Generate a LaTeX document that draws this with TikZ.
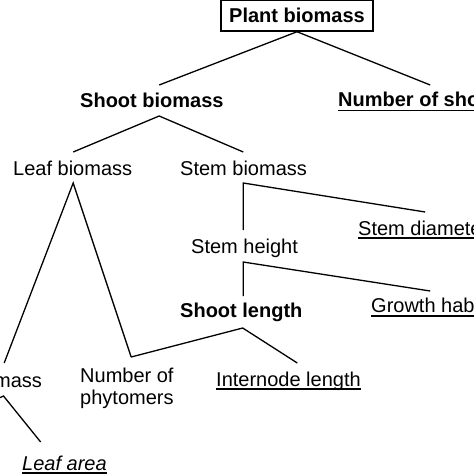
\documentclass[tikz,border=0pt]{standalone}
\usepackage{fontspec}
\setmainfont{Liberation Sans}
\tikzset{
  lbl/.style={inner sep=0pt, anchor=base west, font=\fontsize{20}{22}\selectfont},
  blbl/.style={lbl, font=\fontsize{20}{22}\selectfont\bfseries},
  ilbl/.style={lbl, font=\fontsize{20}{22}\selectfont\itshape},
  conn/.style={line width=1.3pt},
  uline/.style={line width=1.2pt},
  buline/.style={line width=1.8pt},
  rootbox/.style={draw, line width=1.5pt, inner sep=0pt, minimum width=152pt,
    minimum height=31pt, font=\fontsize{20}{22}\selectfont\bfseries}
}
\begin{document}
\begin{tikzpicture}[x=1pt,y=-1pt]
\useasboundingbox (0,0) rectangle (474,474);
\clip (0,0) rectangle (474,474);
% nodes
\node[rootbox] (pb) at (297,15.5) {Plant biomass};
\node[blbl] (sb) at (80,107) {Shoot biomass};
\node[blbl] (ns) at (338,106) {Number of sho};
\node[lbl] (lb) at (13,175) {Leaf biomass};
\node[lbl] (stb) at (180,175) {Stem biomass};
\node[lbl] (sd) at (358,235) {Stem diamete};
\node[lbl] (sh) at (191,253) {Stem height};
\node[lbl] (gh) at (371,312.5) {Growth hab};
\node[blbl] (sl) at (180,317) {Shoot length};
\node[lbl, anchor=north west, align=left] (np) at (80,367.7) {Number of\\phytomers};
\node[lbl] (il) at (216,386) {Internode length};
\node[lbl] (ma) at (-6,387) {mass};
\node[ilbl] (la) at (22,470) {Leaf area};
\coordinate (lc) at (-12,403);
% underlines
\draw[buline] ([yshift=-4.5pt]ns.base west) -- ([yshift=-4.5pt]ns.base east);
\draw[uline] ([yshift=-3pt]sd.base west) -- ([yshift=-3pt]sd.base east);
\draw[uline] ([yshift=-3.5pt]gh.base west) -- ([yshift=-3.5pt]gh.base east);
\draw[uline] ([yshift=-3pt]il.base west) -- ([yshift=-3pt]il.base east);
\draw[uline] ([yshift=-3pt]la.base west) -- ([yshift=-3pt]la.base east);
% connectors
\draw[conn] ([shift={(7.3,-22)}]sb.base) -- (pb.south) -- ([shift={(21.4,-21)}]ns.base);
\draw[conn] ([shift={(0.5,-23)}]lb.base) -- ([shift={(7.3,9)}]sb.base) -- ([shift={(-0.3,-23)}]stb.base);
\draw[conn] ([shift={(-13.9,-24)}]ma.base) -- ([shift={(0.5,8)}]lb.base) -- ([shift={(4.3,-10.7)}]np.north);
\draw[conn] ([shift={(-1.4,-23)}]sh.base) -- ([shift={(-0.3,8)}]stb.base) -- ([shift={(5.3,-23)}]sd.base);
\draw[conn] ([shift={(1.9,-21)}]sl.base) -- ([shift={(-1.4,9)}]sh.base) -- ([shift={(7.3,-21.5)}]gh.base);
\draw[conn] ([shift={(4.3,-10.7)}]np.north) -- ([shift={(1.4,11)}]sl.base) -- ([shift={(8.8,-23)}]il.base);
\draw[conn] (lc) -- ([shift={(-14.6,9)}]ma.base) -- ([shift={(-23.8,-28)}]la.base);
\end{tikzpicture}
\end{document}
